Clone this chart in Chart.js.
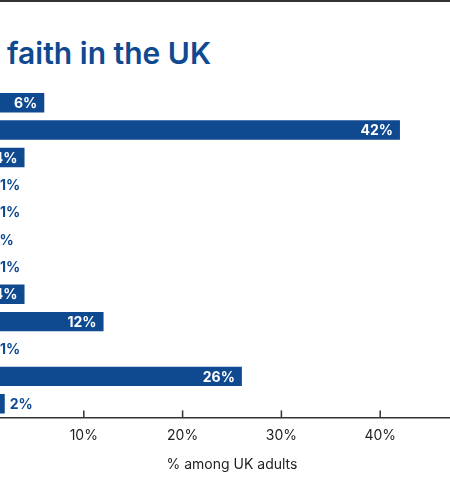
<!DOCTYPE html>
<html>
<head>
<meta charset="utf-8">
<script src="https://cdn.jsdelivr.net/npm/chart.js@4.4.1/dist/chart.umd.min.js"></script>
<style>
  html, body { margin: 0; padding: 0; background: #fff; overflow: hidden; }
  body { width: 450px; height: 499px; position: relative; overflow: hidden; }
  #topline { position: absolute; left: 0; top: 0; width: 450px; height: 2px; background: #333; }
  #title { position: absolute; left: 7px; top: 35px; font-family: Inter, "Noto Sans", sans-serif; font-weight: 600; font-size: 30px; color: #0f4a91; white-space: nowrap; letter-spacing: 0px; }
  #wrap { position: absolute; left: -15px; top: 0; width: 510px; height: 499px; }
</style>
</head>
<body>
<div id="topline"></div>
<div id="title">faith in the UK</div>
<div id="wrap"><canvas id="c"></canvas></div>
<script>
const categories = ["Roman Catholic", "Christian", "Muslim", "Hindu", "Sikh", "Jewish", "Buddhist", "Other Christian", "Other", "Other religion", "No religion", "Prefer not to say"];
const values = [6, 42, 4, 1, 1, 0, 1, 4, 12, 1, 26, 2];
const valueLabels = ["6%", "42%", "4%", "1%", "1%", "0%", "1%", "4%", "12%", "1%", "26%", "2%"];
const xTicks = [0, 10, 20, 30, 40, 50];

const BLUE = '#0f4a91';

const labelPlugin = {
  id: 'valueLabels',
  afterDatasetsDraw(chart) {
    const ctx = chart.ctx;
    const meta = chart.getDatasetMeta(0);
    ctx.save();
    ctx.font = '700 14px Inter, "Noto Sans", sans-serif';
    ctx.textBaseline = 'middle';
    meta.data.forEach((bar, i) => {
      const v = values[i];
      const txt = valueLabels[i];
      if (v >= 4) {
        ctx.fillStyle = '#ffffff';
        ctx.textAlign = 'right';
        ctx.fillText(txt, bar.x - 7, bar.y + 1);
      } else {
        ctx.fillStyle = BLUE;
        ctx.textAlign = 'left';
        ctx.fillText(txt, bar.x + 5, bar.y + 1);
      }
    });
    ctx.restore();
  }
};

const tickPlugin = {
  id: 'upTicks',
  afterDraw(chart) {
    const ctx = chart.ctx;
    const xs = chart.scales.x;
    const bottom = chart.chartArea.bottom;
    ctx.save();
    ctx.strokeStyle = '#333';
    ctx.lineWidth = 1.5;
    xs.ticks.forEach(t => {
      if (t.value <= 0 || t.value >= 50) return;
      const x = xs.getPixelForValue(t.value);
      ctx.beginPath();
      ctx.moveTo(x, bottom - 7);
      ctx.lineTo(x, bottom);
      ctx.stroke();
    });
    ctx.restore();
  }
};

new Chart(document.getElementById('c'), {
  type: 'bar',
  data: {
    labels: categories,
    datasets: [{
      data: values,
      backgroundColor: BLUE,
      borderWidth: 0,
      barPercentage: 0.71,
      categoryPercentage: 1.0
    }]
  },
  options: {
    indexAxis: 'y',
    responsive: true,
    maintainAspectRatio: false,
    animation: false,
    layout: { padding: { top: 89, left: 0, right: 16, bottom: 26 } },
    plugins: { legend: { display: false }, tooltip: { enabled: false } },
    scales: {
      y: { display: false },
      x: {
        min: 0, max: 50,
        afterBuildTicks(scale) { scale.ticks = xTicks.map(v => ({ value: v })); },
        afterFit(scale) { scale.paddingLeft = 0; scale.paddingRight = 0; },
        grid: { display: false, drawOnChartArea: false, drawTicks: false },
        border: { display: true, color: '#333', width: 1.5 },
        ticks: {
          padding: 10,
          color: '#222',
          font: { family: 'Inter, "Noto Sans", sans-serif', size: 14 },
          callback: (v) => v + '%'
        },
        title: {
          display: true,
          text: '% among UK adults',
          color: '#222',
          font: { family: 'Inter, "Noto Sans", sans-serif', size: 14 },
          padding: { top: 2, bottom: 0 }
        }
      }
    }
  },
  plugins: [labelPlugin, tickPlugin]
});
</script>
</body>
</html>
